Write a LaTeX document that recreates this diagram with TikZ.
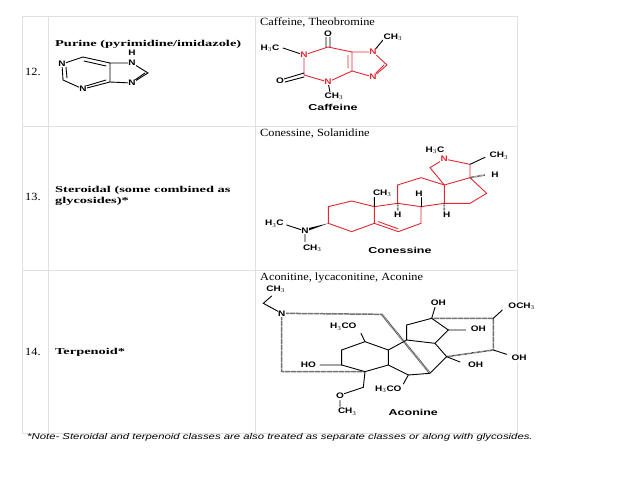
\documentclass[tikz,border=0pt]{standalone}
\usepackage{fontspec}
\setmainfont{Liberation Serif}
\newfontfamily\atomfont[FakeStretch=1.25]{Liberation Sans}
\newfontfamily\namefont[FakeStretch=1.45]{Liberation Sans}
\newfontfamily\hdfont[FakeStretch=1.6]{Liberation Serif}
\newfontfamily\labfont[FakeStretch=1.12]{Liberation Serif}
\newfontfamily\notefont[FakeStretch=1.35]{Liberation Sans}
\begin{document}
\begin{tikzpicture}[x=1pt,y=-1pt,
  grid/.style={draw=black!12,line width=0.6pt},
  bd/.style={line width=0.9pt,line cap=round},
  rb/.style={bd,draw=chemred},
  atm/.style={font=\atomfont\bfseries\fontsize{8}{9}\selectfont,inner sep=0.5pt,fill=white},
  nm/.style={font=\namefont\bfseries\fontsize{8.6}{9}\selectfont,inner sep=0.5pt},
  lab/.style={font=\labfont\fontsize{11}{12}\selectfont,anchor=west,inner sep=0},
  hd/.style={font=\hdfont\bfseries\fontsize{9}{11}\selectfont,anchor=west,inner sep=0,align=left},
  hash/.style={line width=1.8pt,dash pattern=on 0.5pt off 0.7pt,draw=black!80},
  dsh/.style={line width=1.5pt,dash pattern=on 0.6pt off 0.6pt,draw=black!85}]
\definecolor{chemred}{RGB}{226,40,50}
\useasboundingbox[fill=white] (0,0) rectangle (638,478);
% table
\draw[grid] (22,16) rectangle (517,433);
\foreach \x in {48,255} \draw[grid] (\x,16) -- (\x,433);
\foreach \y in {126,270} \draw[grid] (22,\y) -- (517,\y);
\node[lab] (n12) at (25,72) {12.};
\node[lab] (n13) at (25,197) {13.};
\node[lab] (n14) at (25,352) {14.};
\node[hd] (h12) at (55,44) {Purine (pyrimidine/imidazole)};
\node[hd] (h13) at (55,196) {Steroidal (some combined as\\glycosides)*};
\node[hd] (h14) at (55,352) {Terpenoid*};
\node[lab] (c12) at (260,22) {Caffeine, Theobromine};
\node[lab] (c13) at (260,134) {Conessine, Solanidine};
\node[lab] (c14) at (260,278) {Aconitine, lycaconitine, Aconine};
\node[font=\notefont\itshape\fontsize{8.4}{9}\selectfont,anchor=west,inner sep=0] (note) at (27,437) {*Note- Steroidal and terpenoid classes are also treated as separate classes or along with glycosides.};
% purine
\begin{scope}[bd]
\coordinate (p1) at (83,57); \coordinate (p2) at (110,63); \coordinate (p3) at (110,82);
\coordinate (p4) at (83,89); \coordinate (p5) at (63,80); \coordinate (p6) at (62,64);
\coordinate (p7) at (132,63); \coordinate (p8) at (148,73); \coordinate (p9) at (132,83);
\draw (p6)--(p1)--(p2)--(p3)--(p4)--(p5)--cycle (p2)--(p7)--(p8)--(p9)--(p3);
\draw (84,61)--(106,66) (106,80)--(86,86) (66,67)--(67,78) (135,80)--(145,73);
\node[atm] (pn1) at (p6) {N}; \node[atm] (pn2) at (p4) {N};
\node[atm] (pn3) at (p7) {N}; \node[atm] (pn4) at (p9) {N};
\node[atm] (ph) at (132,53) {H};
\end{scope}
% caffeine
\begin{scope}[rb]
\coordinate (cO) at (328,34); \coordinate (c6) at (328,47); \coordinate (cN1) at (304,55);
\coordinate (c2) at (304,75); \coordinate (cO2) at (280,81); \coordinate (cN3) at (328,82);
\coordinate (c4) at (352,71); \coordinate (c5) at (352,52); \coordinate (cN7) at (373,52);
\coordinate (c8) at (387,65); \coordinate (cN9) at (373,77);
\draw (c6)--(cN1)--(c2)--(cN3)--(c4)--(c5)--cycle (c5)--(cN7)--(c8)--(cN9)--(c4);
\draw (348,55)--(348,68) (376,73)--(384,65);
\draw[black] (326,47)--(326,36) (330,47)--(330,36) (304,73)--(284,79) (304,77)--(285,82);
\draw[black] (cN1)--(283,48) (cN7)--(383,40) (cN3)--(330,92);
\node[atm,text=chemred] (cn1) at (cN1) {N}; \node[atm,text=chemred] (cn3) at (cN3) {N};
\node[atm,text=chemred] (cn7) at (cN7) {N}; \node[atm,text=chemred] (cn9) at (cN9) {N};
\node[atm] (co1) at (cO) {O}; \node[atm] (co2) at (cO2) {O};
\node[atm] (cm1) at (270,48) {H$_3$C}; \node[atm] (cm2) at (393,37) {CH$_3$};
\node[atm] (cm3) at (334,96) {CH$_3$};
\node[nm] (cl) at (333,107) {Caffeine};
\end{scope}
% conessine
\begin{scope}[shift={(255,125)},x=1/3pt,y=-1/3pt]
\coordinate (A1) at (220,245); \coordinate (A2) at (290,228); \coordinate (A3) at (358,245);
\coordinate (A4) at (358,295); \coordinate (A5) at (290,320); \coordinate (A6) at (220,295);
\coordinate (B2) at (428,235); \coordinate (B3) at (498,245); \coordinate (B4) at (498,295);
\coordinate (B5) at (430,320);
\coordinate (C2) at (428,180); \coordinate (C3) at (498,158); \coordinate (C4) at (568,180);
\coordinate (C5) at (568,235);
\coordinate (D1) at (645,235); \coordinate (D2) at (695,205); \coordinate (D3) at (645,158);
\coordinate (E1) at (525,128); \coordinate (E2) at (568,102); \coordinate (E3) at (645,118);
\draw[rb] (A1)--(A2)--(A3)--(A4)--(A5)--(A6)--cycle (A3)--(B2)--(B3)--(B4)--(B5)--(A4)
 (B2)--(C2)--(C3)--(C4)--(C5)--(B3) (C5)--(D1)--(D2)--(D3)--(C4)
 (C4)--(E1)--(E2)--(E3)--(D3);
\draw[rb] (370,290)--(428,311);
\draw[bd] (A3)--(358,215) (E3)--(690,97);
\draw[bd] (B3)--(498,218);
\draw[hash] (B2)--(428,258) (C5)--(568,258) (D3)--(690,150);
\fill (A6) -- (150,312) -- (146,322) -- cycle;
\draw[bd] (150,318)--(95,300) (150,318)--(150,350);
\node[atm,text=chemred] (kn) at (E2) {N};
\node[atm] (km1) at (540,75) {H$_3$C}; \node[atm] (km2) at (732,92) {CH$_3$};
\node[atm] (kh1) at (720,150) {H}; \node[atm] (kh2) at (492,205) {H};
\node[atm] (kh3) at (428,270) {H}; \node[atm] (kh4) at (575,270) {H};
\node[atm] (km3) at (382,205) {CH$_3$};
\node[atm] (kn2) at (150,318) {N}; \node[atm] (km4) at (58,296) {H$_3$C};
\node[atm] (km5) at (172,370) {CH$_3$};
\node[nm] (kl) at (435,375) {Conessine};
\end{scope}
% aconine
\begin{scope}[shift={(255,270)},x=1/3pt,y=-1/3pt]
\coordinate (N) at (80,130);
\coordinate (a1) at (330,215); \coordinate (a2) at (260,240); \coordinate (a3) at (260,285);
\coordinate (a4) at (330,305); \coordinate (a5) at (400,285); \coordinate (a6) at (400,240);
\coordinate (b1) at (455,210); \coordinate (b2) at (455,165); \coordinate (b3) at (530,145);
\coordinate (b4) at (580,180); \coordinate (b5) at (540,220);
\coordinate (g1) at (575,260); \coordinate (g2) at (525,310); \coordinate (g3) at (460,315);
\coordinate (q) at (380,133); \coordinate (r1) at (715,145); \coordinate (r2) at (715,240);
\coordinate (s) at (80,305);
\draw[bd] (a1)--(a2)--(a3)--(a4)--(a5)--(a6)--cycle (a6)--(b1)--(b5)--(g1)--(g2)--(g3)--(a5)
 (b1)--(b2)--(b3)--(b4)--(b5);
\draw[bd] (a1)--(318,190) (b3)--(540,112) (b4)--(632,180) (g1)--(615,276) (g3)--(445,342)
 (a3)--(195,285) (a4)--(325,352)--(265,372) (255,392)--(255,410) (N)--(25,100)--(50,78)
 (r1)--(742,120) (r2)--(755,253);
\draw[dsh] (N)--(q) (N)--(s)--(a4) (b3)--(r1)--(r2)--(g1);
\draw[hash,line width=2.2pt] (q)--(g2);
\node[atm] (an) at (N) {N}; \node[atm] (ac) at (62,58) {CH$_3$};
\node[atm] (ao1) at (550,97) {OH}; \node[atm] (ao2) at (670,176) {OH};
\node[atm] (ao3) at (662,285) {OH}; \node[atm] (ao4) at (800,108) {OCH$_3$};
\node[atm] (ao5) at (792,262) {OH}; \node[atm] (ao6) at (265,170) {H$_3$CO};
\node[atm] (ao7) at (160,285) {HO}; \node[atm] (ao8) at (400,357) {H$_3$CO};
\node[atm] (ao9) at (255,378) {O}; \node[atm] (ao10) at (277,425) {CH$_3$};
\node[nm] (al) at (475,428) {Aconine};
\end{scope}
\end{tikzpicture}
\end{document}
